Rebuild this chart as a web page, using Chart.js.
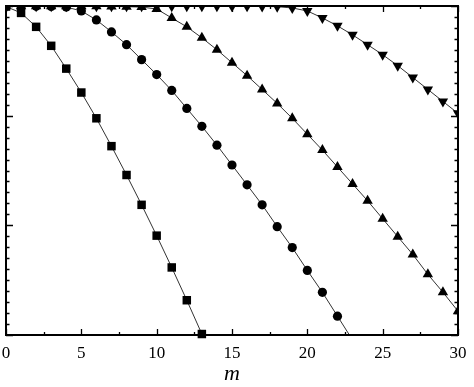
<!DOCTYPE html>
<html lang="en">
<head>
    <meta charset="UTF-8">
    <title>m curves</title>
    <script src="https://cdn.jsdelivr.net/npm/chart.js"></script>
    <style>
        body { margin: 0; background: #fff; }
        #wrap { width: 474px; height: 387px; }
    </style>
</head>
<body>
    <div id="wrap"><canvas id="chart"></canvas></div>

    <script>
        // m = 0, 1, 2, ...  (top of frame = 0)
        const squareVals = [-0.005, -0.063, -0.19, -0.363, -0.571, -0.789, -1.024, -1.278, -1.541, -1.813,
            -2.094, -2.384, -2.683, -2.991];
        const circleVals = [-0.002, -0.002, -0.003, -0.004, -0.01, -0.045, -0.127, -0.236, -0.353, -0.489,
            -0.625, -0.77, -0.934, -1.097, -1.269, -1.45, -1.631, -1.813, -2.012, -2.203,
            -2.411, -2.611, -2.828, -3.045];
        const triUpVals = [-0.002, -0.002, -0.002, -0.002, -0.002, -0.002, -0.003, -0.004, -0.006, -0.01,
            -0.027, -0.109, -0.19, -0.29, -0.399, -0.517, -0.635, -0.761, -0.888, -1.024,
            -1.169, -1.314, -1.468, -1.622, -1.776, -1.94, -2.103, -2.266, -2.447, -2.61, -2.783];
        const triDownVals = [-0.002, -0.002, -0.002, -0.002, -0.002, -0.002, -0.002, -0.002, -0.002, -0.002,
            -0.002, -0.002, -0.002, -0.002, -0.002, -0.003, -0.003, -0.004, -0.006, -0.018,
            -0.045, -0.109, -0.181, -0.263, -0.353, -0.444, -0.544, -0.652, -0.761, -0.87, -0.979];

        const xTicks = [0, 5, 10, 15, 20, 25, 30];

        const toPoints = vals => vals.map((v, i) => ({ x: i, y: v }));

        function series(vals, style, radius, rotation, clipBottom) {
            return {
                data: toPoints(vals),
                borderColor: "#333",
                borderWidth: 1,
                backgroundColor: "#000",
                pointBackgroundColor: "#000",
                pointBorderColor: "#000",
                pointBorderWidth: 0,
                pointStyle: style,
                pointRadius: radius,
                pointRotation: rotation,
                tension: 0,
                clip: { left: 0, top: 0, right: 0, bottom: clipBottom }
            };
        }

        // frame with inward ticks, minor ones too
        const framePlugin = {
            id: "frame",
            afterDatasetsDraw(chart) {
                const { ctx, chartArea: a, scales } = chart;
                const xs = scales.x, ys = scales.y;
                ctx.save();
                ctx.strokeStyle = "#000";
                ctx.lineWidth = 1.3;
                ctx.beginPath();
                for (let v = 0; v <= 30; v += 2.5) {
                    const px = Math.round(xs.getPixelForValue(v)) + 0.5;
                    const len = v % 5 === 0 ? 6 : 3;
                    ctx.moveTo(px, a.bottom); ctx.lineTo(px, a.bottom - len);
                    ctx.moveTo(px, a.top); ctx.lineTo(px, a.top + len);
                }
                for (let k = 0; k <= 30; k++) {
                    const v = -k / 10;
                    const py = Math.round(ys.getPixelForValue(v)) + 0.5;
                    const len = k % 10 === 0 ? 7 : 3.5;
                    ctx.moveTo(a.left, py); ctx.lineTo(a.left + len, py);
                    ctx.moveTo(a.right, py); ctx.lineTo(a.right - len, py);
                }
                ctx.stroke();
                ctx.lineWidth = 2;
                ctx.strokeRect(a.left, a.top, a.right - a.left, a.bottom - a.top);
                ctx.restore();
            }
        };

        new Chart(document.getElementById("chart"), {
            type: "line",
            data: {
                datasets: [
                    series(squareVals, "rect", 6, 0, 6),
                    series(circleVals, "circle", 4.6, 0, 0),
                    series(triUpVals, "triangle", 6, 0, 0),
                    series(triDownVals, "triangle", 6, 180, 0)
                ]
            },
            options: {
                responsive: true,
                maintainAspectRatio: false,
                animation: false,
                layout: { padding: { left: 4, top: 4, right: 16, bottom: 0 } },
                plugins: { legend: { display: false }, tooltip: { enabled: false } },
                scales: {
                    x: {
                        type: "linear",
                        min: 0,
                        max: 30,
                        afterBuildTicks: s => { s.ticks = xTicks.map(v => ({ value: v })); },
                        afterFit: s => { s.height = 52; s.paddingLeft = 0; s.paddingRight = 0; },
                        grid: { display: false, drawTicks: false },
                        border: { display: false },
                        ticks: {
                            color: "#000",
                            padding: 8,
                            maxRotation: 0,
                            font: { family: "Liberation Serif", size: 17 }
                        },
                        title: {
                            display: true,
                            text: "m",
                            color: "#000",
                            padding: { top: 0, bottom: 0 },
                            font: { family: "Liberation Serif", size: 22, style: "italic" }
                        }
                    },
                    y: {
                        type: "linear",
                        min: -3,
                        max: 0,
                        display: false
                    }
                }
            },
            plugins: [framePlugin]
        });
    </script>
</body>
</html>
